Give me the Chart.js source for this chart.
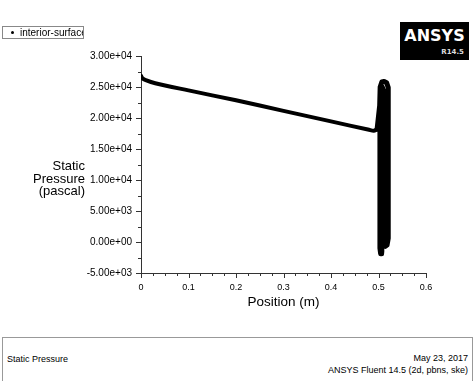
<!DOCTYPE html>
<html>
<head>
<meta charset="utf-8">
<script src="https://cdn.jsdelivr.net/npm/chart.js@4"></script>
<style>
  html, body { margin: 0; padding: 0; background: #fff; width: 474px; height: 381px; overflow: hidden; position: relative; font-family: "Liberation Sans", Arial, sans-serif; }
  #c { position: absolute; left: 0; top: 0; }
  #legend { position: absolute; left: 2px; top: 26px; width: 80px; height: 11px; border: 1px solid #888; overflow: hidden; white-space: nowrap; font-size: 10px; line-height: 11px; color: #000; }
  #legend span.dot { display: inline-block; width: 3px; height: 3px; background: #000; border-radius: 50%; margin: 0 6px 2px 8px; vertical-align: middle; }
  #logo { position: absolute; left: 400px; top: 22px; width: 69px; height: 38px; background: #000; color: #fff; }
  #logo .a { position: absolute; left: 0; width: 69px; top: 4px; text-align: center; font-family: "DejaVu Sans", sans-serif; font-weight: bold; font-size: 16px; }
  #logo .r { position: absolute; right: 5px; top: 26px; font-family: "DejaVu Sans", sans-serif; font-weight: bold; font-size: 7px; color: #ddd; }
  #ytitle { position: absolute; right: 389px; top: 160px; text-align: right; font-size: 13px; line-height: 12.5px; color: #000; }
  #footer { position: absolute; left: 2px; top: 337px; width: 469px; height: 50px; border: 1px solid #999; }
  #footer .l { position: absolute; left: 4px; top: 16px; font-size: 9px; }
  #footer .r { position: absolute; right: 4px; top: 14px; font-size: 9px; text-align: right; line-height: 12px; }
</style>
</head>
<body>
<canvas id="c" width="474" height="312"></canvas>
<div id="legend"><span class="dot"></span>interior-surface</div>
<div id="logo"><div class="a">ANSYS</div><div class="r">R14.5</div></div>
<div id="ytitle">Static<br>Pressure<br>(pascal)</div>
<div id="footer"><div class="l">Static Pressure</div><div class="r">May 23, 2017<br>ANSYS Fluent 14.5 (2d, pbns, ske)</div></div>
<script>
// ---- data ----
const seriesName = 'interior-surface';
const lineX = [0, 0.003, 0.01, 0.03, 0.1, 0.2, 0.3, 0.4, 0.48, 0.49, 0.497];
const lineY = [26800, 26400, 26100, 25600, 24450, 22850, 21150, 19450, 18100, 17950, 18200];
const blobX = [0.497, 0.5025, 0.5035, 0.507, 0.512, 0.517, 0.5205, 0.5205, 0.518, 0.5145, 0.5125, 0.508, 0.507, 0.5065, 0.5045, 0.503, 0.503];
const blobY = [18200, 22000, 25000, 25800, 25900, 25700, 24900, 600, -500, -700, 24000, 25000, -1500, -1900, -1900, -1000, 18000];
const xTickLabels = ['0', '0.1', '0.2', '0.3', '0.4', '0.5', '0.6'];
const yTickLabels = ['-5.00e+03', '0.00e+00', '5.00e+03', '1.00e+04', '1.50e+04', '2.00e+04', '2.50e+04', '3.00e+04'];

const toPts = (xs, ys) => xs.map((x, i) => ({ x: x, y: ys[i] }));

const tickPlugin = {
  id: 'minorTicks',
  afterDraw(chart) {
    const ctx = chart.ctx;
    const xs = chart.scales.x, ys = chart.scales.y;
    const a = chart.chartArea;
    ctx.save();
    ctx.strokeStyle = '#333';
    ctx.lineWidth = 1;
    ctx.beginPath();
    for (let i = 0; i <= 28; i++) {
      const v = ys.min + i * 1250;
      const p = Math.round(ys.getPixelForValue(v)) + 0.5;
      const len = (i % 4 === 0) ? 5 : (i % 2 === 0 ? 3 : 0);
      if (!len) continue;
      ctx.moveTo(a.left, p); ctx.lineTo(a.left - len, p);
    }
    for (let i = 0; i <= 24; i++) {
      const v = xs.min + i * 0.025;
      const p = Math.round(xs.getPixelForValue(v)) + 0.5;
      const len = (i % 4 === 0) ? 5 : 3;
      ctx.moveTo(p, a.bottom); ctx.lineTo(p, a.bottom + len);
    }
    ctx.stroke();
    ctx.restore();
  }
};

new Chart(document.getElementById('c'), {
  type: 'scatter',
  data: {
    datasets: [
      { label: seriesName, data: toPts(lineX, lineY), showLine: true, borderColor: '#000', backgroundColor: '#000', borderWidth: 4, pointRadius: 0, borderCapStyle: 'round', borderJoinStyle: 'round', tension: 0.3 },
      { label: seriesName, data: toPts(blobX, blobY), showLine: true, borderColor: '#000', backgroundColor: '#000', borderWidth: 5, pointRadius: 0, borderCapStyle: 'round', borderJoinStyle: 'round' }
    ]
  },
  options: {
    responsive: false,
    animation: false,
    devicePixelRatio: 1,
    layout: { padding: { left: 0, top: 56, right: 48, bottom: 0 } },
    plugins: { legend: { display: false }, tooltip: { enabled: false } },
    scales: {
      x: {
        type: 'linear', min: 0, max: 0.6,
        afterFit(s) { s.height = 39; },
        ticks: { stepSize: 0.1, padding: 9, color: '#000', font: { family: 'Liberation Sans', size: 9 },
          callback: (v, i) => xTickLabels[i] },
        grid: { display: false, drawTicks: false },
        border: { display: true, color: '#333', width: 1 },
        title: { display: true, text: 'Position (m)', color: '#000', font: { family: 'Liberation Sans', size: 13.5 }, padding: { top: 0, bottom: 2 } }
      },
      y: {
        type: 'linear', min: -5000, max: 30000,
        afterFit(s) { s.width = 141; },
        ticks: { stepSize: 5000, padding: 9, color: '#000', font: { family: 'Liberation Sans', size: 10 },
          callback: (v, i) => yTickLabels[i] },
        grid: { display: false, drawTicks: false },
        border: { display: true, color: '#333', width: 1 }
      }
    }
  },
  plugins: [tickPlugin]
});
</script>
</body>
</html>
